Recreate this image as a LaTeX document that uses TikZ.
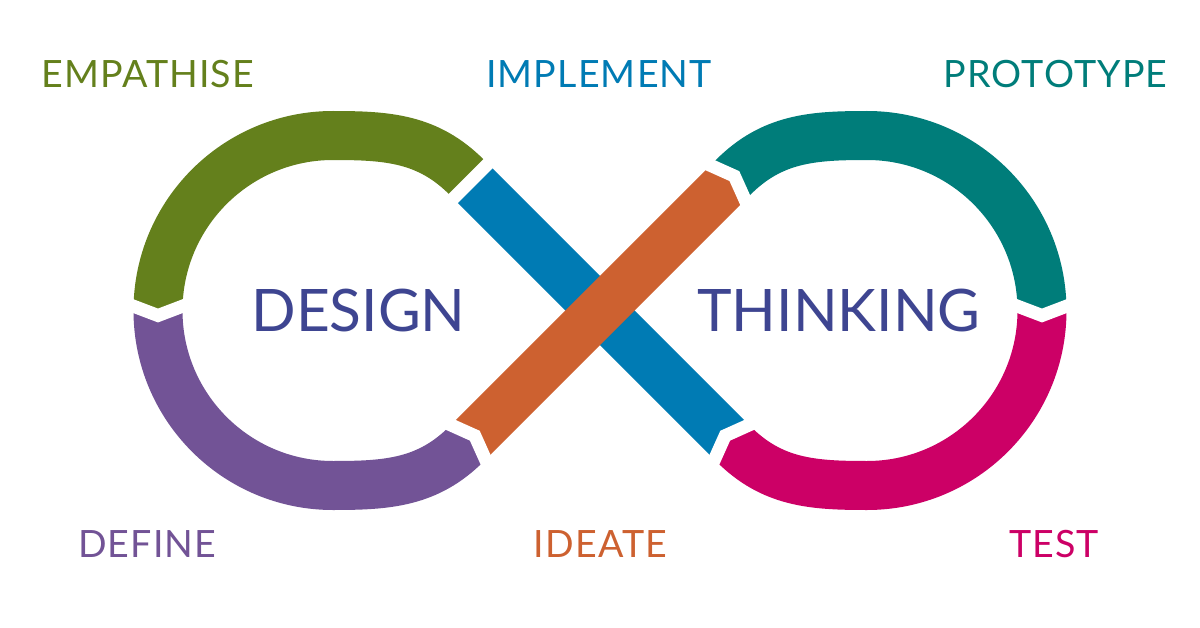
\documentclass[tikz,border=0pt]{standalone}
\usepackage{fontspec}
\setmainfont{Lato}
\newfontfamily\stagefont[LetterSpace=3]{Lato}
\usepackage{tikz}
\definecolor{empgreen}{RGB}{100,128,28}
\definecolor{implblue}{RGB}{0,123,180}
\definecolor{protteal}{RGB}{0,125,122}
\definecolor{defpurple}{RGB}{114,83,150}
\definecolor{ideaorange}{RGB}{205,97,48}
\definecolor{testpink}{RGB}{204,0,102}
\definecolor{titlenavy}{RGB}{62,69,145}
\begin{document}
\begin{tikzpicture}
[
x=0.5pt, y=0.5pt,
band-a/.style={line width=24.5pt},
cut-a/.style={white,line width=6.5pt,line join=miter},
stage-a/.style={font=\stagefont\fontsize{18.8pt}{22pt}\selectfont,anchor=base,inner sep=0pt},
title-a/.style={font=\fontsize{29.3pt}{34pt}\selectfont,anchor=base,inner sep=0pt,text=titlenavy},
]
\fill[white] (-600,-316.5) rectangle (600,310.5);
\useasboundingbox (-600,-316.5) rectangle (600,310.5);
% turning points of the loop
\coordinate (f1) at (-133.5, 133.5);
\coordinate (f2) at (-133.5,-133.5);
\coordinate (f3) at ( 133.5, 133.5);
\coordinate (f4) at ( 133.5,-133.5);
\coordinate (t1) at (-267, 175);
\coordinate (t2) at ( 267, 175);
\coordinate (s1) at (-442,0);
\coordinate (s2) at ( 442,0);
% where two bands meet
\coordinate (j1) at (-129.4, 129.4);
\coordinate (j2) at (-128.7,-128.7);
\coordinate (j3) at ( 130.8, 130.8);
\coordinate (j4) at ( 128.7,-128.7);
% tips of the gaps
\coordinate (k1) at (-442,-5);
\coordinate (k2) at (-125.2,-125.2);
\coordinate (k3) at ( 134.4, 134.4);
\coordinate (k4) at ( 442,-5);
\coordinate (k5) at ( 125.2,-125.2);
% bands
\draw [band-a, empgreen]   (j1) -- (f1) to[out=135,in=0] (t1) arc[start angle=90,end angle=180,radius=175];
\draw [band-a, defpurple]  (s1) arc[start angle=180,end angle=270,radius=175] to[out=0,in=225] (f2) -- (j2);
\draw [band-a, protteal]   (j3) -- (f3) to[out=45,in=180] (t2) arc[start angle=90,end angle=0,radius=175];
\draw [band-a, testpink]   (s2) arc[start angle=0,end angle=-90,radius=175] to[out=180,in=-45] (f4) -- (j4);
\draw [band-a, implblue]   (j4) -- (j1);
\draw [band-a, ideaorange] (j2) -- (j3);
% gaps
\draw [cut-a, shift={(j1)}, rotate=135] (0,30) -- (0,-30);
\draw [cut-a, shift={(k1)}, rotate=-90] (-11.4,30) -- (0,0) -- (-11.4,-30);
\draw [cut-a, shift={(k2)}, rotate=45]  (-11.4,30) -- (0,0) -- (-11.4,-30);
\draw [cut-a, shift={(k3)}, rotate=45]  (-11.4,30) -- (0,0) -- (-11.4,-30);
\draw [cut-a, shift={(k4)}, rotate=-90] (-11.4,30) -- (0,0) -- (-11.4,-30);
\draw [cut-a, shift={(k5)}, rotate=135] (-11.4,30) -- (0,0) -- (-11.4,-30);
% texts
\node (w1) [title-a] at (-241.5,-20.5) {DESIGN};
\node (w2) [title-a] at ( 239,-20.5)   {THINKING};
\node (l1) [stage-a, text=empgreen]   at (-452.3, 222.8) {EMPATHISE};
\node (l2) [stage-a, text=implblue]   at (  -1,   222.8) {IMPLEMENT};
\node (l3) [stage-a, text=protteal]   at ( 455.5, 222.8) {PROTOTYPE};
\node (l4) [stage-a, text=defpurple]  at (-452.7,-247.2) {DEFINE};
\node (l5) [stage-a, text=ideaorange] at (   0.5,-247.2) {IDEATE};
\node (l6) [stage-a, text=testpink]   at ( 454,  -247.2) {TEST};
\end{tikzpicture}
\end{document}
